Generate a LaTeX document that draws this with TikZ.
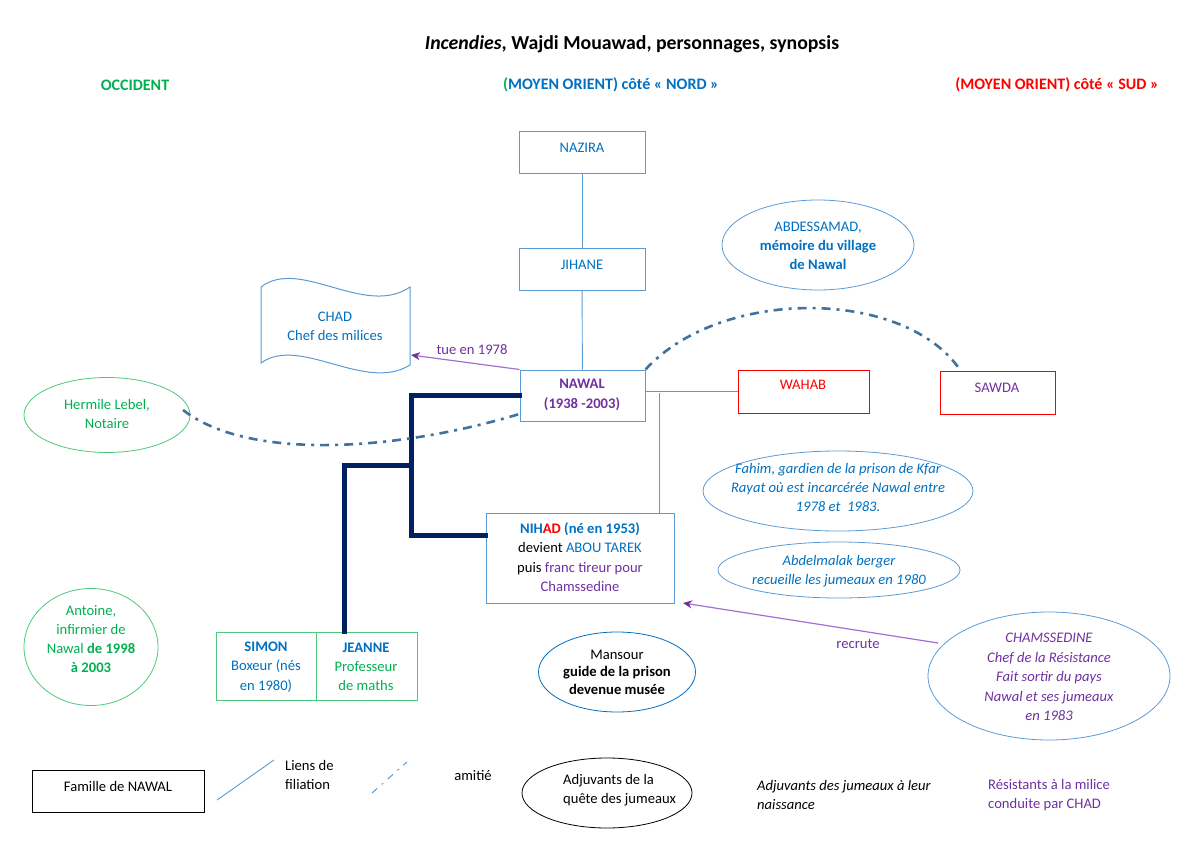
\documentclass[tikz,border=0pt]{standalone}
\usepackage{fontspec}
\setmainfont{Carlito}
\usetikzlibrary{shapes.geometric,arrows.meta}
\definecolor{cblue}{HTML}{0070C0}
\definecolor{bblue}{HTML}{5B9BD5}
\definecolor{cgreen}{HTML}{00B050}
\definecolor{bgreen}{HTML}{4CC97A}
\definecolor{cred}{HTML}{FF0000}
\definecolor{cpurple}{HTML}{7030A0}
\definecolor{lpurple}{HTML}{A070D0}
\definecolor{cnavy}{HTML}{002060}
\definecolor{fblue}{HTML}{41719C}
\tikzset{
  t/.style={font=\fontsize{14.6}{19.3}\selectfont, align=center, inner sep=0pt},
  fambox/.style={draw=bblue, line width=1pt, rectangle, inner sep=0pt},
  redbox/.style={draw=cred, line width=1pt, rectangle, inner sep=0pt},
  grnbox/.style={draw=bgreen, line width=1pt, rectangle, inner sep=0pt},
  ell/.style={draw, ellipse, line width=0.8pt, inner sep=0pt},
  filia/.style={draw=bblue, line width=0.9pt},
  navyl/.style={draw=cnavy, line width=5pt, line cap=rect},
  amit/.style={draw=fblue, line width=2.6pt, dash pattern=on 9pt off 6pt on 3pt off 6pt},
  parrow/.style={draw=lpurple, line width=1.2pt, -{Stealth[length=9pt,width=8pt,color=cpurple]}},
  hdr/.style={t, font=\fontsize{16}{18}\selectfont\bfseries},
}
\begin{document}
\begin{tikzpicture}[x=1pt,y=-1pt]
\useasboundingbox (0,0) rectangle (1200,848);
% headers
\node[t, font=\fontsize{19.8}{22}\selectfont\bfseries] (title) at (632,44) {\textit{Incendies}, Wajdi Mouawad, personnages, synopsis};
\node[hdr, text=cgreen] (occ) at (135,85) {OCCIDENT};
\node[hdr, text=cblue] (nord) at (611,85) {\textcolor{cgreen}{(}MOYEN ORIENT) côté « NORD »};
\node[hdr, text=cred] (sud) at (1057,85) {(MOYEN ORIENT) côté « SUD »};

% family boxes
\node[fambox, minimum width=126pt, minimum height=42pt] (nazira) at (582,153) {};
\node[t, text=cblue] (naziraT) at (582,148) {NAZIRA};
\node[fambox, minimum width=126pt, minimum height=42pt] (jihane) at (582,269) {};
\node[t, text=cblue] (jihaneT) at (582,265) {JIHANE};
\node[fambox, minimum width=125pt, minimum height=51pt] (nawal) at (582.5,395.5) {};
\node[t, text=cpurple, font=\fontsize{14.6}{19.3}\selectfont\bfseries] (nawalT) at (582,395) {NAWAL\\(1938 -2003)};
\node[redbox, minimum width=131pt, minimum height=43pt] (wahab) at (803.5,391.5) {};
\node[t, text=cred] (wahabT) at (803,385) {WAHAB};
\node[redbox, minimum width=115pt, minimum height=43pt] (sawda) at (997.5,392.5) {};
\node[t, text=cpurple] (sawdaT) at (997,388) {SAWDA};
\node[fambox, minimum width=188pt, minimum height=90pt] (nihad) at (580,558) {};
\node[t] (nihadT) at (580,557) {\textbf{\textcolor{cblue}{NIH}\textcolor{cred}{AD}\ \textcolor{cblue}{(né en 1953)}}\\devient \textcolor{cblue}{ABOU TAREK}\\puis \textcolor{cpurple}{franc tireur pour}\\\textcolor{cpurple}{Chamssedine}};
\node[grnbox, minimum width=100pt, minimum height=68pt] (simon) at (266,666) {};
\node[t, text=cblue] (simonT) at (266,667) {\textbf{SIMON}\\Boxeur (nés\\en 1980)};
\node[grnbox, minimum width=101pt, minimum height=68pt] (jeanne) at (366.5,666) {};
\node[t, text=cgreen] (jeanneT) at (366,667) {\textcolor{cblue}{\textbf{JEANNE}}\\Professeur\\de maths};

% CHAD tape shape
\draw[draw=bblue, line width=1pt] (261,287) .. controls (300,257) and (365,318) .. (410,287)
  -- (410,365) .. controls (365,393) and (300,335) .. (261,363) -- cycle;
\node[t, text=cblue] (chad) at (335,326) {CHAD\\Chef des milices};
\coordinate (chadR) at (411,355);

% ellipses
\node[ell, draw=bblue, minimum width=192pt, minimum height=90pt] (abdes) at (818,245) {};
\node[t, text=cblue] (abdesT) at (818,246) {ABDESSAMAD,\\\textbf{mémoire du village}\\\textbf{de Nawal}};
\node[ell, draw=bgreen, minimum width=166pt, minimum height=75pt] (hermile) at (107,415) {};
\node[t, text=cgreen] (hermileT) at (107,414) {Hermile Lebel,\\Notaire};
\node[ell, draw=bblue, minimum width=270pt, minimum height=80pt] (fahim) at (838,491) {};
\node[t, text=cblue, font=\fontsize{14.6}{19}\selectfont\itshape] (fahimT) at (838,487) {Fahim, gardien de la prison de Kfar\\Rayat où est incarcérée Nawal entre\\1978 et\ \ 1983.};
\node[ell, draw=bblue, minimum width=242pt, minimum height=56pt] (abdel) at (839,570) {};
\node[t, text=cblue, font=\fontsize{14.6}{19}\selectfont\itshape] (abdelT) at (839,571) {Abdelmalak berger\\recueille les jumeaux en 1980};
\node[ell, draw=bblue, minimum width=242pt, minimum height=128pt] (chams) at (1049,676) {};
\node[t, text=cpurple, font=\fontsize{14.6}{19.5}\selectfont\itshape] (chamsT) at (1049,677) {CHAMSSEDINE\\Chef de la Résistance\\Fait sortir du pays\\Nawal et ses jumeaux\\en 1983};
\node[ell, draw=cblue, minimum width=157pt, minimum height=80pt] (mansour) at (617,672) {};
\node[t, font=\fontsize{14.6}{17.5}\selectfont] (mansourT) at (617,672) {Mansour\\\textbf{guide de la prison}\\\textbf{devenue musée}};
\node[ell, draw=bgreen, minimum width=134pt, minimum height=117pt] (antoine) at (91,647) {};
\node[t, text=cgreen] (antoineT) at (91,639) {Antoine,\\infirmier de\\Nawal \textbf{de 1998}\\\textbf{à 2003}};

% filiation lines
\draw[filia] (nazira) -- (jihane);
\draw[filia] (jihane) -- (nawal);
\draw[filia] (wahab.west) -- (wahab.west -| nawal.east);
\draw[filia] (659,393) -- (nihad.north -| 659,0);

% navy lines
\draw[navyl] (nawal.west) -| (411,535) -- (nihad.west |- 0,535);
\draw[navyl] (411,465) -| (jeanne.north -| 344,0);

% friendship curves
\draw[amit] (nawal.north east) .. controls (720,288) and (900,288) .. (958,367);
\draw[amit] (183,410) .. controls (250,462) and (400,450) .. (nawal.west |- 0,414);

% purple arrows
\draw[parrow] (nawal.north west) -- (chadR);
\node[t, text=cpurple] (tue) at (472,350) {tue en 1978};
\coordinate (chamsA) at (938,643);
\draw[parrow] (chamsA) -- (683,603);
\node[t, text=cpurple] (recrute) at (858,644) {recrute};

% legend
\node[draw=black, line width=1pt, minimum width=172pt, minimum height=42pt, inner sep=0pt] (leg1) at (118,791) {};
\node[t] (leg1T) at (118,786) {Famille de NAWAL};
\coordinate (l2a) at (217,800); \coordinate (l2b) at (274,760);
\draw[filia] (l2a) -- (l2b);
\node[t, align=left, anchor=west] (leg2T) at (285,775) {Liens de\\filiation};
\coordinate (l3a) at (372,793); \coordinate (l3b) at (407,762);
\draw[draw=bblue, line width=1pt, dash pattern=on 7pt off 6pt on 2pt off 6pt] (l3a) -- (l3b);
\node[t] (leg3T) at (473,775) {amitié};
\node[ell, draw=black, minimum width=170pt, minimum height=70pt] (leg4) at (607,793) {};
\node[t, align=left, anchor=west] (leg4T) at (563,790) {Adjuvants de la\\quête des jumeaux};
\node[t, align=left, anchor=west, font=\fontsize{14.6}{19}\selectfont\itshape] (leg5T) at (757,795) {Adjuvants des jumeaux à leur\\naissance};
\node[t, align=left, anchor=west, text=cpurple] (leg6T) at (988,795) {Résistants à la milice\\conduite par CHAD};
\end{tikzpicture}
\end{document}
